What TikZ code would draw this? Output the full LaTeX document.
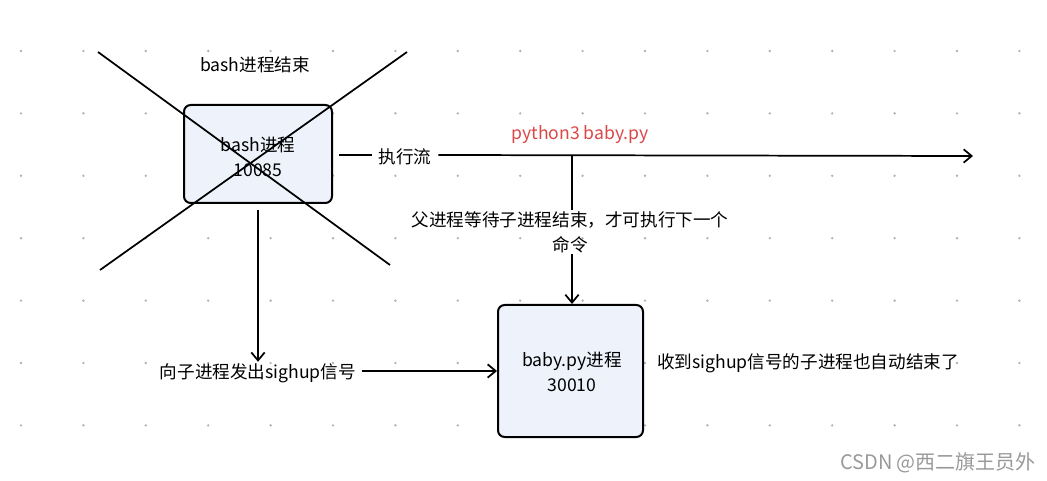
\documentclass[tikz,border=0pt]{standalone}
\usepackage{fontspec}
\setmainfont{Noto Sans CJK SC}
\usetikzlibrary{arrows.meta}
\begin{document}
\begin{tikzpicture}[x=0.75pt,y=-0.75pt,
  box/.style={draw=black,line width=1.5pt,rounded corners=5pt,fill={rgb,255:red,238;green,242;blue,251}},
  lbl/.style={font=\fontsize{13.2}{19}\selectfont,align=center,inner sep=1pt},
  ar/.style={line width=1.3pt,-{Straight Barb[length=6pt,width=10pt]}},
  ln/.style={line width=1.3pt}]
\useasboundingbox (0,0) rectangle (1047,481);
\foreach \i in {0,...,16}{\foreach \j in {0,...,6}{
  \fill[gray!60] (21+62.4*\i,51+62.4*\j) circle (1pt);}}
\node[box,minimum width=148*0.75pt,minimum height=98*0.75pt] (bash) at (258,154) {};
\node[lbl] (bt) at (258,157) {bash进程\\10085};
\node[box,minimum width=145*0.75pt,minimum height=132*0.75pt] (baby) at (570.5,371) {};
\node[lbl] (bbt) at (572,372) {baby.py进程\\30010};
\coordinate (c1) at (98,52); \coordinate (c2) at (390,265);
\coordinate (c3) at (407,52); \coordinate (c4) at (100,270);
\draw[ln] (c1) -- (c2); \draw[ln] (c3) -- (c4);
\node[lbl] (end) at (255,65) {bash进程结束};
\node[lbl] (flow) at (405,157) {执行流};
\coordinate (tip) at (973,156);
\draw[ln] (bash.east|-flow) ++(6,-2) -- ([xshift=-4pt]flow.west|-0,155);
\draw[ar] ([xshift=4pt]flow.east|-0,155) -- (tip);
\node[lbl,text={rgb,255:red,220;green,70;blue,70}] (py) at (580,135) {python3 baby.py};
\node[lbl] (wait) at (570,232) {父进程等待子进程结束，才可执行下一个\\命令};
\coordinate (v1) at (572,156);
\draw[ln] (v1) -- (wait.north-|v1);
\draw[ar] (wait.south-|v1) -- (baby.north-|v1);
\node[lbl] (sig) at (258,373) {向子进程发出sighup信号};
\draw[ar] (258,210) -- (sig.north);
\draw[ar] (sig.east|-0,371) ++(4,0) -- (baby.west|-0,371);
\node[lbl] (recv) at (808,363) {收到sighup信号的子进程也自动结束了};
\node[lbl,text=gray!80,font=\fontsize{15}{17}\selectfont] (csdn) at (938,463) {CSDN @西二旗王员外};
\end{tikzpicture}
\end{document}
